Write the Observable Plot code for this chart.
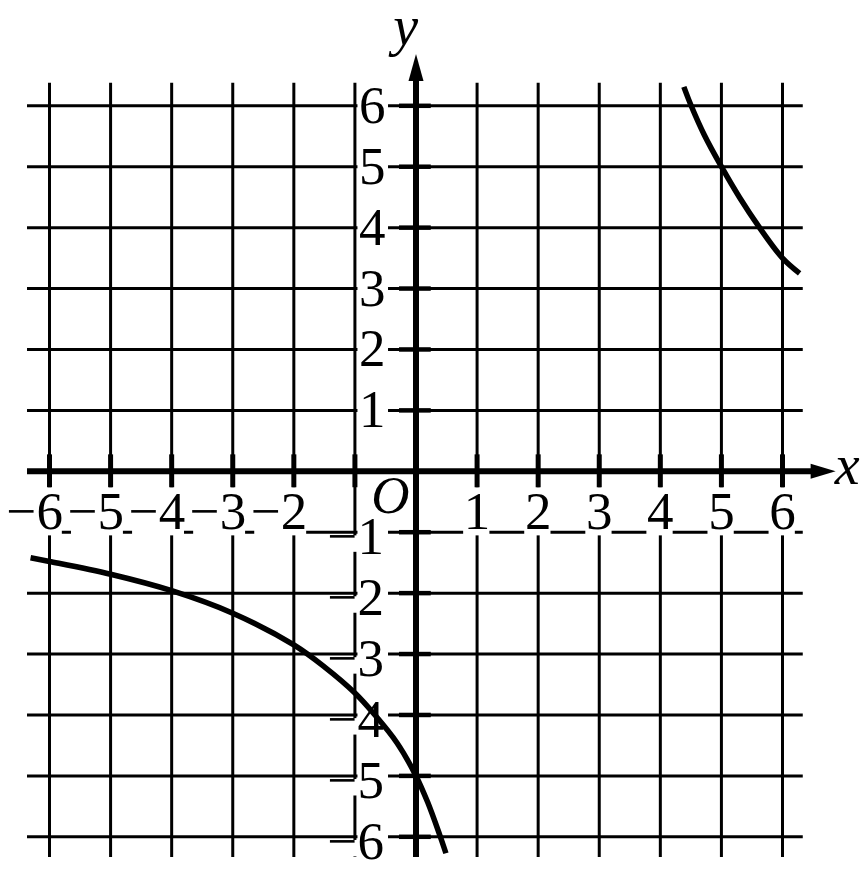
<!DOCTYPE html>
<html><head><meta charset="utf-8">
<script src="https://cdn.jsdelivr.net/npm/d3@7"></script>
<script src="https://cdn.jsdelivr.net/npm/@observablehq/plot@0.6"></script>
<style>html,body{margin:0;padding:0;background:#fff;} #chart svg{display:block}</style>
</head><body><div id="chart"></div>
<script>
// grid / tick positions
const gridValues = [-6,-5,-4,-3,-2,-1,1,2,3,4,5,6];
const xLabelValues = [-6,-5,-4,-3,-2,1,2,3,4,5,6];
const xTickLabels = ["−6","−5","−4","−3","−2","1","2","3","4","5","6"];
const yLabelValues = [6,5,4,3,2,1,-1,-2,-3,-4,-5,-6];
const yTickLabels = ["6","5","4","3","2","1","−1","−2","−3","−4","−5","−6"];
const axisNames = ["x","y"];
const originLabel = "O";
// curve: lower-left branch
const leftX = [-6.31, -6, -5, -4, -3, -2, -1.5, -1, -0.69, -0.31, 0, 0.19, 0.385, 0.49];
const leftY = [-1.42, -1.48, -1.69, -1.96, -2.33, -2.85, -3.21, -3.64, -3.98, -4.46, -5, -5.43, -5.96, -6.27];
// upper-right branch
const rightX = [4.385, 4.505, 4.72, 5, 5.3, 5.61, 6, 6.28];
const rightY = [6.31, 6, 5.52, 5, 4.49, 4.02, 3.5, 3.25];

const left = leftX.map((x,i)=>({x, y:leftY[i]}));
const right = rightX.map((x,i)=>({x, y:rightY[i]}));
const xLab = xLabelValues.map((v,i)=>({v, t:xTickLabels[i]}));
const yLab = yLabelValues.map((v,i)=>({v, t:yTickLabels[i]}));

const FONT = "'Liberation Serif', 'Times New Roman', serif";
const FS = 53;

const arrowRight = {draw(ctx){ctx.moveTo(0,0);ctx.lineTo(-25,-7.5);ctx.lineTo(-25,7.5);ctx.closePath();}};
const arrowUp = {draw(ctx){ctx.moveTo(0,0);ctx.lineTo(-7.5,27);ctx.lineTo(7.5,27);ctx.closePath();}};

const chart = Plot.plot({
  width: 864, height: 877, margin: 0,
  style: {background: "white", overflow: "visible"},
  x: {domain: [-6, 6], range: [49, 782], axis: null},
  y: {domain: [-6, 6], range: [836.3, 105.3], axis: null},
  marks: [
    // grid
    Plot.ruleX(gridValues, {x: d => d, y1: -6.34, y2: 6.37, stroke: "black", strokeWidth: 3}),
    Plot.ruleY(gridValues, {y: d => d, x1: -6.36, x2: 6.34, stroke: "black", strokeWidth: 3}),
    // white label backgrounds
    Plot.rect(xLab, {x1: d => d.v < 0 ? d.v - 0.64 : d.v - 0.22, x2: d => d.v + 0.21, y1: -0.27, y2: -1.06, fill: "white"}),
    Plot.rect(yLab, {x1: -0.95, x2: -0.45, y1: d => d.v > 0 ? d.v + 0.3 : d.v + 0.2, y2: d => d.v > 0 ? d.v - 0.3 : d.v - 0.42, fill: "white"}),
    Plot.rect(yLab.filter(d => d.v < 0), {x1: -1.37, x2: -0.95, y1: d => d.v - 0.06, y2: d => d.v - 0.33, fill: "white"}),
    // tick labels
    Plot.text(xLab.filter(d => d.v < 0), {x: "v", y: 0, text: "t", textAnchor: "end", dx: 13.5, dy: 41, fontFamily: FONT, fontSize: FS, fill: "black"}),
    Plot.text(xLab.filter(d => d.v > 0), {x: "v", y: 0, text: "t", textAnchor: "middle", dy: 41, fontFamily: FONT, fontSize: FS, fill: "black"}),
    Plot.text(yLab.filter(d => d.v > 0), {x: 0, y: "v", text: "t", textAnchor: "end", dx: -30.5, dy: 0, fontFamily: FONT, fontSize: FS, fill: "black"}),
    Plot.text(yLab.filter(d => d.v < 0), {x: 0, y: "v", text: "t", textAnchor: "end", dx: -32, dy: 5, fontFamily: FONT, fontSize: FS, fill: "black"}),
    // axes
    Plot.ruleY([0], {x1: -6.36, x2: 6.6, stroke: "black", strokeWidth: 6}),
    Plot.ruleX([0], {y1: -6.34, y2: 6.5, stroke: "black", strokeWidth: 6}),
    // axis ticks
    Plot.ruleX(gridValues, {x: d => d, y1: -0.27, y2: 0.27, stroke: "black", strokeWidth: 5}),
    Plot.ruleY(gridValues, {y: d => d, x1: -0.27, x2: 0.25, stroke: "black", strokeWidth: 4.5}),
    // arrowheads
    Plot.dot([0], {x: 6.87, y: 0, symbol: arrowRight, fill: "black", stroke: "none"}),
    Plot.dot([0], {x: 0, y: 6.85, symbol: arrowUp, fill: "black", stroke: "none"}),
    // axis names & origin
    Plot.text([axisNames[0]], {x: 7.06, y: 0.085, text: d => d, textAnchor: "middle", fontFamily: FONT, fontStyle: "italic", fontSize: 56, fill: "black"}),
    Plot.text([axisNames[1]], {x: -0.17, y: 7.3, text: d => d, textAnchor: "middle", fontFamily: FONT, fontStyle: "italic", fontSize: 56, fill: "black"}),
    Plot.text([originLabel], {x: -0.42, y: -0.4, text: d => d, textAnchor: "middle", fontFamily: FONT, fontStyle: "italic", fontSize: 53, fill: "black"}),
    // curve
    Plot.line(left, {x: "x", y: "y", curve: "catmull-rom", stroke: "black", strokeWidth: 5.5, strokeLinecap: "butt"}),
    Plot.line(right, {x: "x", y: "y", curve: "catmull-rom", stroke: "black", strokeWidth: 5.5, strokeLinecap: "butt"})
  ]
});
document.getElementById("chart").appendChild(chart);
</script>
</body></html>
